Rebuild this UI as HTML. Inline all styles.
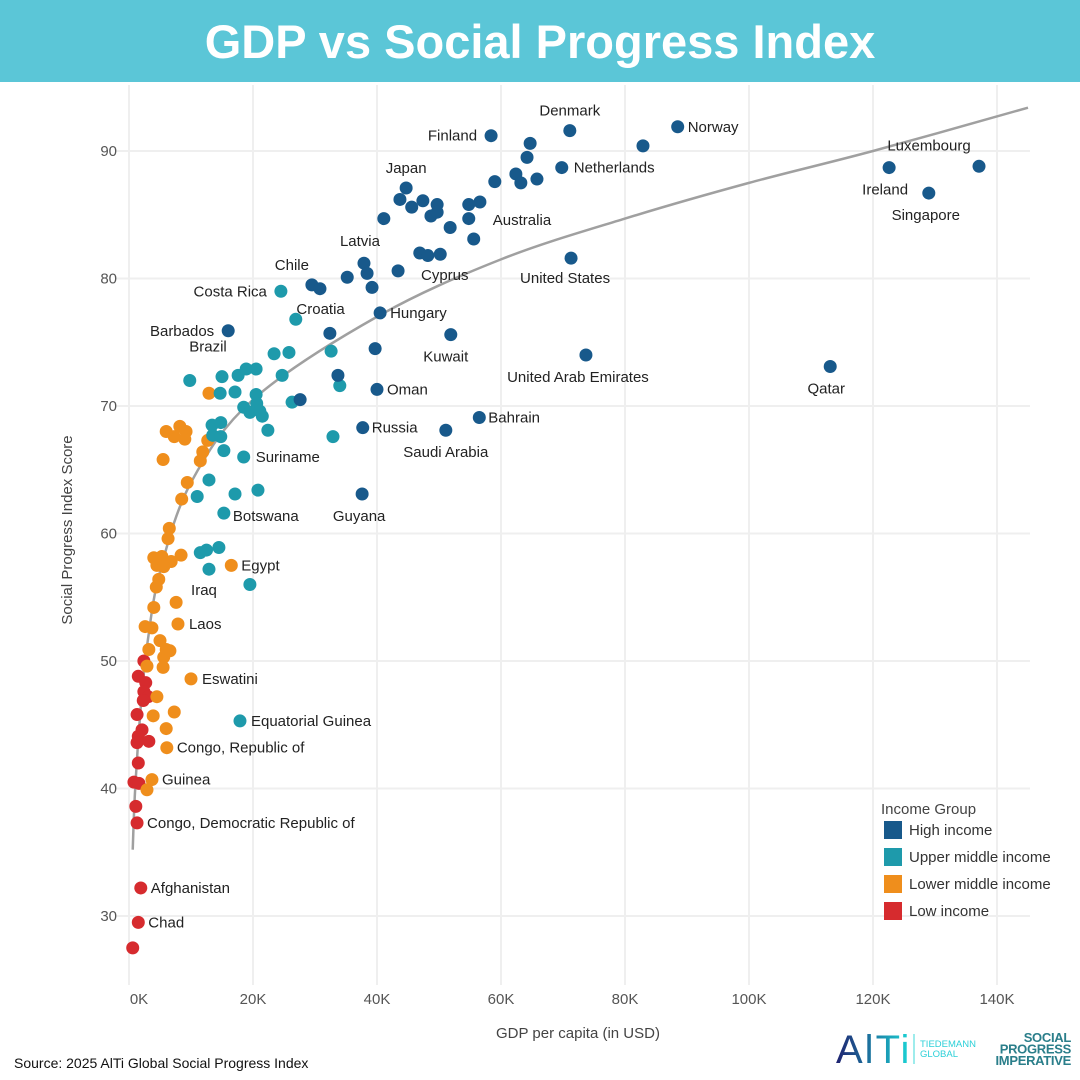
<!DOCTYPE html>
<html><head><meta charset="utf-8">
<style>
body{margin:0;width:1080px;height:1080px;background:#fff;font-family:"Liberation Sans",Arial,sans-serif;overflow:hidden;position:relative}
#title{position:absolute;left:0;top:0;width:1080px;height:82px;background:#5BC6D7;color:#fff;font-weight:bold;font-size:47px;text-align:center;line-height:84px}
svg{position:absolute;left:0;top:0}
</style></head><body>
<div id="title">GDP vs Social Progress Index</div>
<svg id="chart" width="1080" height="1080"></svg>
<script>
const highGdp=[71.1,88.5,58.4,69.8,82.9,64.7,64.2,62.4,63.2,65.8,59.0,56.6,54.8,54.8,44.7,43.7,45.6,47.4,49.7,48.7,49.7,41.1,51.8,55.6,46.9,48.2,50.2,43.4,37.9,38.4,35.2,39.2,29.5,30.8,71.3,40.5,32.4,39.7,51.9,73.7,113.1,40.0,33.7,27.6,37.7,51.1,56.5,37.6,16.0,122.6,137.1,129.0];
const highSpi=[91.6,91.9,91.2,88.7,90.4,90.6,89.5,88.2,87.5,87.8,87.6,86.0,85.8,84.7,87.1,86.2,85.6,86.1,85.8,84.9,85.2,84.7,84.0,83.1,82.0,81.8,81.9,80.6,81.2,80.4,80.1,79.3,79.5,79.2,81.6,77.3,75.7,74.5,75.6,74.0,73.1,71.3,72.4,70.5,68.3,68.1,69.1,63.1,75.9,88.7,88.8,86.7];
const upperGdp=[24.5,26.9,25.8,23.4,32.6,34.0,9.8,15.0,17.6,18.9,20.5,24.7,14.7,17.1,20.5,20.6,18.5,19.5,21.5,21.1,26.3,22.4,13.4,14.8,13.5,14.8,15.3,18.5,32.9,12.9,11.0,17.1,20.8,15.3,11.5,12.5,14.5,12.9,19.5,17.9];
const upperSpi=[79.0,76.8,74.2,74.1,74.3,71.6,72.0,72.3,72.4,72.9,72.9,72.4,71.0,71.1,70.9,70.2,69.9,69.5,69.2,69.6,70.3,68.1,68.5,68.7,67.7,67.6,66.5,66.0,67.6,64.2,62.9,63.1,63.4,61.6,58.5,58.7,58.9,57.2,56.0,45.3];
const lowerGdp=[12.9,8.2,9.2,9.0,7.3,6.0,12.7,11.9,11.5,5.5,9.4,8.5,6.5,6.3,4.0,5.3,8.4,6.8,4.5,5.6,4.8,4.4,7.6,4.0,7.9,2.6,3.7,5.0,3.2,6.0,5.6,5.5,6.6,10.0,2.9,4.5,7.3,3.9,6.0,6.1,3.7,2.9,16.5];
const lowerSpi=[71.0,68.4,68.0,67.4,67.6,68.0,67.3,66.4,65.7,65.8,64.0,62.7,60.4,59.6,58.1,58.2,58.3,57.8,57.5,57.4,56.4,55.8,54.6,54.2,52.9,52.7,52.6,51.6,50.9,50.9,50.3,49.5,50.8,48.6,49.6,47.2,46.0,45.7,44.7,43.2,40.7,39.9,57.5];
const lowGdp=[2.4,1.5,2.7,2.4,3.1,2.3,1.3,2.1,1.5,3.2,1.3,1.5,0.8,1.6,1.1,1.3,1.9,1.5,0.6];
const lowSpi=[50.0,48.8,48.3,47.6,47.2,46.9,45.8,44.6,44.1,43.7,43.6,42.0,40.5,40.4,38.6,37.3,32.2,29.5,27.5];
const trendGdp=[0.6,1,2,3,5,10,20,40,60,80,100,120,145];
const trendSpi=[35.2,40,47,51.5,57,64,70.5,77,81.5,84.7,87.5,90,93.4];
const xTicks=[0,20,40,60,80,100,120,140];
const xTickLabels=["0K","20K","40K","60K","80K","100K","120K","140K"];
const yTicks=[30,40,50,60,70,80,90];
const labelNames=["Denmark","Norway","Finland","Netherlands","Japan","Australia","Latvia","Chile","Costa Rica","Cyprus","United States","Croatia","Hungary","Barbados","Brazil","Kuwait","United Arab Emirates","Qatar","Oman","Russia","Bahrain","Saudi Arabia","Suriname","Guyana","Botswana","Egypt","Iraq","Laos","Eswatini","Equatorial Guinea","Congo, Republic of","Guinea","Congo, Democratic Republic of","Afghanistan","Chad","Luxembourg","Ireland","Singapore"];
const labelGdp=[71.1,88.5,58.4,69.8,44.7,59.0,37.9,29.5,24.5,45.0,71.3,33.0,40.5,16.0,15.0,51.9,73.7,113.1,40.0,37.7,56.5,51.1,18.5,37.6,15.3,16.5,12.9,7.9,10.0,17.9,6.1,3.7,1.3,1.9,1.5,137.1,122.6,129.0];
const labelSpi=[91.6,91.9,91.2,88.7,87.1,86.0,81.2,79.5,79.0,81.2,81.6,77.3,77.3,75.9,72.3,75.6,74.0,73.1,71.3,68.3,69.1,68.1,66.0,63.1,61.6,57.5,57.2,52.9,48.6,45.3,43.2,40.7,37.3,32.2,29.5,88.8,88.7,86.7];
const labelPos=[["m",0,-20],["s",10,0],["e",-14,0],["s",12,0],["m",0,-20],["s",-2,18],["m",-4,-22],["m",-20,-20],["e",-14,0],["s",13,12],["m",-6,20],["m",-13,-4],["s",10,0],["e",-14,0],["m",-14,-30],["m",-5,22],["m",-8,22],["m",-4,22],["s",10,0],["s",9,0],["s",9,0],["m",0,22],["s",12,0],["m",-3,22],["s",9,3],["s",10,0],["m",-5,21],["s",11,0],["s",11,0],["s",11,0],["s",10,0],["s",10,0],["s",10,0],["s",10,0],["s",10,0],["m",-50,-21],["m",-4,22],["m",-3,22]];

const NS="http://www.w3.org/2000/svg";
const svg=document.getElementById("chart");
const X=v=>129+v*6.2;
const Y=v=>151+(90-v)*12.75;
function mk(t,a,p){const e=document.createElementNS(NS,t);for(const k in a)e.setAttribute(k,a[k]);(p||svg).appendChild(e);return e;}
// grid
xTicks.forEach(v=>{const l=mk("line",{x1:X(v),x2:X(v),y1:85,y2:985,stroke:"#efefef","stroke-width":2});

});
yTicks.forEach(v=>{const l=mk("line",{x1:115,x2:1030,y1:Y(v),y2:Y(v),stroke:"#efefef","stroke-width":2});

});
xTicks.forEach((v,i)=>{const t=mk("text",{x:X(v)+(i===0?10:0),y:1004,"text-anchor":"middle","font-size":15,fill:"#555"});t.textContent=xTickLabels[i];

});
yTicks.forEach(v=>{const t=mk("text",{x:117,y:Y(v)+5,"text-anchor":"end","font-size":15,fill:"#555"});t.textContent=v;

});
let t=mk("text",{x:578,y:1038,"text-anchor":"middle","font-size":15,fill:"#444"});t.textContent="GDP per capita (in USD)";

t=mk("text",{x:72,y:530,"text-anchor":"middle","font-size":15,fill:"#444",transform:"rotate(-90 72 530)"});t.textContent="Social Progress Index Score";

// trend (smoothed Catmull-Rom)
const tp=trendGdp.map((g,i)=>[X(g),Y(trendSpi[i])]);
let d="M"+tp[0][0]+","+tp[0][1];
for(let i=0;i<tp.length-1;i++){const p0=tp[Math.max(0,i-1)],p1=tp[i],p2=tp[i+1],p3=tp[Math.min(tp.length-1,i+2)];
d+="C"+(p1[0]+(p2[0]-p0[0])/6)+","+(p1[1]+(p2[1]-p0[1])/6)+" "+(p2[0]-(p3[0]-p1[0])/6)+","+(p2[1]-(p3[1]-p1[1])/6)+" "+p2[0]+","+p2[1];}
const tr=mk("path",{d:d,fill:"none",stroke:"#a0a0a0","stroke-width":2.5});

const groups=[[lowGdp,lowSpi,"#D62B2E","low-income-point"],[lowerGdp,lowerSpi,"#EF8E1C","lower-middle-income-point"],[upperGdp,upperSpi,"#1E9AAB","upper-middle-income-point"],[highGdp,highSpi,"#18598B","high-income-point"]];
groups.forEach(g=>{g[0].forEach((x,i)=>{const c=mk("circle",{cx:X(x),cy:Y(g[1][i]),r:6.5,fill:g[2]});

});});
labelNames.forEach((n,i)=>{const p=labelPos[i];const anc=p[0]==="m"?"middle":p[0]==="e"?"end":"start";
const l=mk("text",{x:X(labelGdp[i])+p[1],y:Y(labelSpi[i])+p[2]+5,"text-anchor":anc,"font-size":15,fill:"#222"});l.textContent=n;

});
// legend
const lg=mk("g",{});
t=mk("text",{x:881,y:814,"font-size":15,fill:"#444"},lg);t.textContent="Income Group";

const legN=["High income","Upper middle income","Lower middle income","Low income"],legC=["#18598B","#1E9AAB","#EF8E1C","#D62B2E"];
legN.forEach((n,i)=>{const y=830+i*27;const r=mk("rect",{x:884,y:y-9,width:18,height:18,fill:legC[i]},lg);

const tx=mk("text",{x:909,y:y+5,"font-size":15,fill:"#333"},lg);tx.textContent=n;
});
// source & logos
t=mk("text",{x:14,y:1068,"font-size":14,fill:"#111"});t.textContent="Source: 2025 AlTi Global Social Progress Index";

const defs=mk("defs",{});const gr=mk("linearGradient",{id:"ag",x1:"0",x2:"1",y1:"0",y2:"0"},defs);
mk("stop",{offset:"0","stop-color":"#1F2270"},gr);mk("stop",{offset:"1","stop-color":"#19D8D8"},gr);
t=mk("text",{x:836,y:1063,"font-size":40,fill:"url(#ag)","letter-spacing":"2"});t.textContent="AlTi";

const sep=mk("line",{x1:914,x2:914,y1:1034,y2:1064,stroke:"#3ED8D8","stroke-width":1});

t=mk("text",{x:920,y:1047,"font-size":9.5,fill:"#2CD0D8"});t.textContent="TIEDEMANN";

t=mk("text",{x:920,y:1057,"font-size":9.5,fill:"#2CD0D8"});t.textContent="GLOBAL";

["SOCIAL","PROGRESS","IMPERATIVE"].forEach((w,i)=>{const s=mk("text",{x:1071,y:1042+i*11.5,"text-anchor":"end","font-size":13,"font-weight":"bold",fill:"#2A7E8A","letter-spacing":"-0.3"});s.textContent=w;
});
</script>
</body></html>
